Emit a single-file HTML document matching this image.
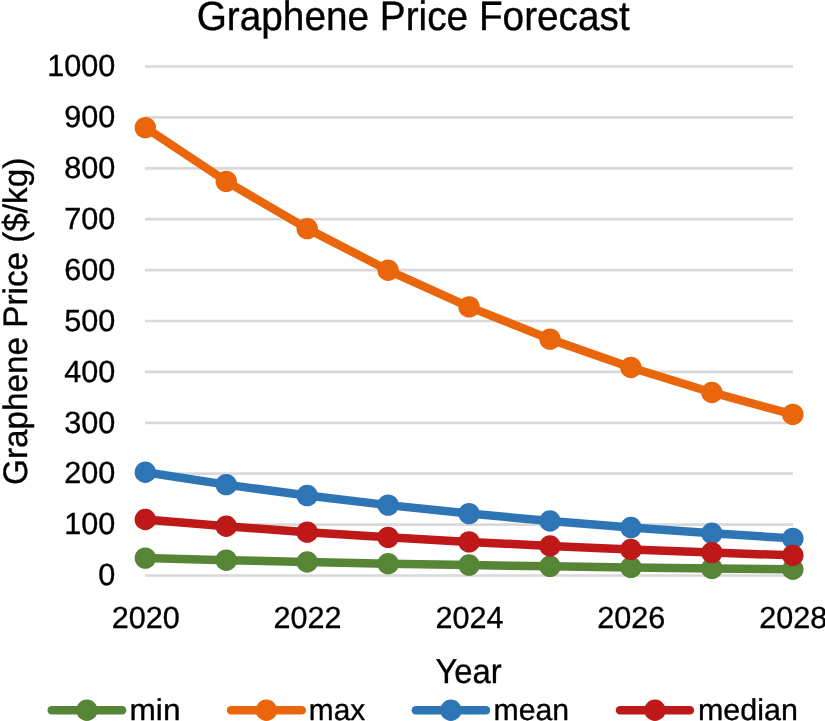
<!DOCTYPE html>
<html><head><meta charset="utf-8"><style>
html,body{margin:0;padding:0;background:#fff;width:825px;height:721px;overflow:hidden}
svg{display:block;will-change:transform}
text{font-family:"Liberation Sans",sans-serif;fill:#000;text-rendering:geometricPrecision;stroke:#000;stroke-width:0.35px;stroke-linejoin:round}
</style></head><body>
<svg width="825" height="721" viewBox="0 0 825 721">
<rect width="825" height="721" fill="#fff"/>
<g stroke="#d9d9d9" stroke-width="2.7"><line x1="145" y1="575.50" x2="793" y2="575.50"/><line x1="145" y1="524.60" x2="793" y2="524.60"/><line x1="145" y1="473.70" x2="793" y2="473.70"/><line x1="145" y1="422.80" x2="793" y2="422.80"/><line x1="145" y1="371.90" x2="793" y2="371.90"/><line x1="145" y1="321.00" x2="793" y2="321.00"/><line x1="145" y1="270.10" x2="793" y2="270.10"/><line x1="145" y1="219.20" x2="793" y2="219.20"/><line x1="145" y1="168.30" x2="793" y2="168.30"/><line x1="145" y1="117.40" x2="793" y2="117.40"/><line x1="145" y1="66.50" x2="793" y2="66.50"/></g>
<path d="M145.30,558.09 L226.24,560.18 L307.18,562.02 L388.12,563.64 L469.06,565.06 L550.00,566.31 L630.94,567.42 L711.88,568.39 L792.82,569.24" fill="none" stroke="#558535" stroke-width="8.5" stroke-linejoin="round"/>
<g fill="#558535"><circle cx="145.30" cy="558.09" r="10.7"/><circle cx="226.24" cy="560.18" r="10.7"/><circle cx="307.18" cy="562.02" r="10.7"/><circle cx="388.12" cy="563.64" r="10.7"/><circle cx="469.06" cy="565.06" r="10.7"/><circle cx="550.00" cy="566.31" r="10.7"/><circle cx="630.94" cy="567.42" r="10.7"/><circle cx="711.88" cy="568.39" r="10.7"/><circle cx="792.82" cy="569.24" r="10.7"/></g>
<path d="M145.30,127.58 L226.24,181.33 L307.18,228.63 L388.12,270.26 L469.06,306.88 L550.00,339.12 L630.94,367.48 L711.88,392.45 L792.82,414.41" fill="none" stroke="#EA660C" stroke-width="8.5" stroke-linejoin="round"/>
<g fill="#EA660C"><circle cx="145.30" cy="127.58" r="10.7"/><circle cx="226.24" cy="181.33" r="10.7"/><circle cx="307.18" cy="228.63" r="10.7"/><circle cx="388.12" cy="270.26" r="10.7"/><circle cx="469.06" cy="306.88" r="10.7"/><circle cx="550.00" cy="339.12" r="10.7"/><circle cx="630.94" cy="367.48" r="10.7"/><circle cx="711.88" cy="392.45" r="10.7"/><circle cx="792.82" cy="414.41" r="10.7"/></g>
<path d="M145.30,472.27 L226.24,484.66 L307.18,495.56 L388.12,505.15 L469.06,513.60 L550.00,521.02 L630.94,527.56 L711.88,533.31 L792.82,538.38" fill="none" stroke="#2E75B6" stroke-width="8.5" stroke-linejoin="round"/>
<g fill="#2E75B6"><circle cx="145.30" cy="472.27" r="10.7"/><circle cx="226.24" cy="484.66" r="10.7"/><circle cx="307.18" cy="495.56" r="10.7"/><circle cx="388.12" cy="505.15" r="10.7"/><circle cx="469.06" cy="513.60" r="10.7"/><circle cx="550.00" cy="521.02" r="10.7"/><circle cx="630.94" cy="527.56" r="10.7"/><circle cx="711.88" cy="533.31" r="10.7"/><circle cx="792.82" cy="538.38" r="10.7"/></g>
<path d="M145.30,519.51 L226.24,526.23 L307.18,532.14 L388.12,537.34 L469.06,541.92 L550.00,545.95 L630.94,549.50 L711.88,552.62 L792.82,555.36" fill="none" stroke="#BE1818" stroke-width="8.5" stroke-linejoin="round"/>
<g fill="#BE1818"><circle cx="145.30" cy="519.51" r="10.7"/><circle cx="226.24" cy="526.23" r="10.7"/><circle cx="307.18" cy="532.14" r="10.7"/><circle cx="388.12" cy="537.34" r="10.7"/><circle cx="469.06" cy="541.92" r="10.7"/><circle cx="550.00" cy="545.95" r="10.7"/><circle cx="630.94" cy="549.50" r="10.7"/><circle cx="711.88" cy="552.62" r="10.7"/><circle cx="792.82" cy="555.36" r="10.7"/></g>
<g transform="translate(115.3,0) scale(1.0,1)"><text x="0" y="585.25" text-anchor="end" font-size="30.6">0</text><text x="0" y="534.35" text-anchor="end" font-size="30.6">100</text><text x="0" y="483.45" text-anchor="end" font-size="30.6">200</text><text x="0" y="432.55" text-anchor="end" font-size="30.6">300</text><text x="0" y="381.65" text-anchor="end" font-size="30.6">400</text><text x="0" y="330.75" text-anchor="end" font-size="30.6">500</text><text x="0" y="279.85" text-anchor="end" font-size="30.6">600</text><text x="0" y="228.95" text-anchor="end" font-size="30.6">700</text><text x="0" y="178.05" text-anchor="end" font-size="30.6">800</text><text x="0" y="127.15" text-anchor="end" font-size="30.6">900</text><text x="0" y="76.25" text-anchor="end" font-size="30.6">1000</text></g>
<g transform="translate(145.70,0) scale(1.0,1)"><text x="0" y="628.0" text-anchor="middle" font-size="30.6">2020</text></g><g transform="translate(307.58,0) scale(1.0,1)"><text x="0" y="628.0" text-anchor="middle" font-size="30.6">2022</text></g><g transform="translate(469.46,0) scale(1.0,1)"><text x="0" y="628.0" text-anchor="middle" font-size="30.6">2024</text></g><g transform="translate(631.34,0) scale(1.0,1)"><text x="0" y="628.0" text-anchor="middle" font-size="30.6">2026</text></g><g transform="translate(793.22,0) scale(1.0,1)"><text x="0" y="628.0" text-anchor="middle" font-size="30.6">2028</text></g>
<text x="413.2" y="30.3" text-anchor="middle" font-size="41" textLength="433" lengthAdjust="spacingAndGlyphs">Graphene Price Forecast</text>
<text transform="translate(27.2,321.35) rotate(-90)" x="0" y="0" text-anchor="middle" font-size="34" textLength="327.3" lengthAdjust="spacingAndGlyphs">Graphene Price ($/kg)</text>
<g transform="translate(468.6,0) scale(0.95,1)"><text x="0" y="682.7" text-anchor="middle" font-size="34.5">Year</text></g>
<line x1="51.75" y1="710.3" x2="122.05" y2="710.3" stroke="#558535" stroke-width="8.5" stroke-linecap="round"/><circle cx="86.90" cy="710.3" r="10.7" fill="#558535"/><g transform="translate(129.50,0) scale(1.0550,1)"><text x="0" y="719.9" font-size="30.0">min</text></g>
<line x1="231.05" y1="710.3" x2="301.75" y2="710.3" stroke="#EA660C" stroke-width="8.5" stroke-linecap="round"/><circle cx="266.40" cy="710.3" r="10.7" fill="#EA660C"/><g transform="translate(308.80,0) scale(0.9950,1)"><text x="0" y="719.9" font-size="30.0">max</text></g>
<line x1="415.85" y1="710.3" x2="485.95" y2="710.3" stroke="#2E75B6" stroke-width="8.5" stroke-linecap="round"/><circle cx="450.90" cy="710.3" r="10.7" fill="#2E75B6"/><g transform="translate(493.50,0) scale(1.0070,1)"><text x="0" y="719.9" font-size="30.0">mean</text></g>
<line x1="620.05" y1="710.3" x2="689.85" y2="710.3" stroke="#BE1818" stroke-width="8.5" stroke-linecap="round"/><circle cx="654.95" cy="710.3" r="10.7" fill="#BE1818"/><g transform="translate(698.00,0) scale(1.0150,1)"><text x="0" y="719.9" font-size="30.0">median</text></g>
</svg>
</body></html>
